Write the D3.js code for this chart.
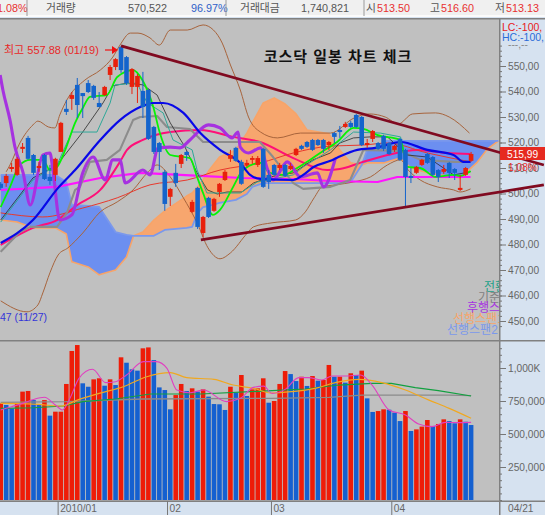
<!DOCTYPE html>
<html>
<head>
<meta charset="utf-8">
<style>
  html, body { margin: 0; padding: 0; background: #d6e2f0; overflow: hidden; }
  svg { display: block; }
  text { font-family: "Liberation Sans", "Noto Sans CJK KR", sans-serif; }
</style>
</head>
<body>
<div id="chart"></div>
<script src="https://cdnjs.cloudflare.com/ajax/libs/d3/7.8.5/d3.min.js"></script>
<script>
var days = ['12/15','12/16','12/17','12/18','12/21','12/22','12/23','12/24','12/28','12/29','12/30',
  '01/04','01/05','01/06','01/07','01/08','01/11','01/12','01/13','01/14','01/15','01/18','01/19','01/20','01/21','01/22','01/25','01/26','01/27','01/28','01/29',
  '02/01','02/02','02/03','02/04','02/05','02/08','02/09','02/10','02/11','02/12','02/16','02/17','02/18','02/19','02/22','02/23','02/24','02/25',
  '02/26','03/02','03/03','03/04','03/05','03/08','03/09','03/10','03/11','03/12','03/15','03/16','03/17','03/18','03/19','03/22','03/23','03/24','03/25','03/26','03/29','03/30','03/31',
  '04/01','04/02','04/05','04/06','04/07','04/08','04/09','04/12','04/13','04/14','04/15','04/16','04/19','04/20','04/21'];

// prices: body top / body bottom are open and close depending on the up flag
var bodyTop = [503.8,506.9,510.4,513.6,518.3,521.8,515.1,510.8,515.1,506.5,513.6,527.7,533.2,538.6,542.6,539.4,543.3,542.2,535.5,541.8,549.6,552.7,557.4,553.5,548.8,546.1,540.2,540.6,526.1,519.8,508.5,501.8,508.1,515.1,516.3,496.7,502.2,490.8,498.3,497.9,503.8,508.5,515.1,517.9,512.4,512,513.9,513.9,517.5,507.3,511.2,511.2,511.2,510.8,517.5,518.7,520.2,521,521,521,520.2,523.7,524.9,527.3,527.7,530.8,530,519.8,524.5,519.8,522.6,519.8,518.7,521.4,517.1,506.9,510.4,513.2,515.5,514.3,509.2,509.6,512,509.6,502.2,510,515.5];
var bodyBottom = [502.2,504.1,509.6,507.3,517.5,513.6,508.1,510,505.7,504.9,507.3,516.3,532,537.1,534.7,538.2,539.8,537.5,533.9,538.6,546.5,549.6,548.4,543.3,541.8,541.8,533.9,521.4,516.3,516.3,495.9,498.7,504.1,511.6,515.1,492.8,486.9,484.5,490.8,493.2,500.6,505.3,513.6,512.8,503.8,511.2,513.2,511.2,502.6,504.5,507.3,510,506.9,509.6,515.1,517.5,518.3,517.1,519,517.5,519,522.2,524.1,526.1,526.1,526.1,519,519,521.4,517.5,517.5,515.5,517.1,513.2,506.5,506.1,508.1,511.2,512,507.3,506.5,508.5,508.1,508.1,501.4,507.3,512.8];
var highs = [504.5,507.7,512,514.3,519.8,522.6,515.5,512.4,515.5,511.2,514,528.1,536.7,539.8,545.3,539.4,544.5,542.6,539.8,542.2,550.4,553.1,557.88,553.9,549.2,546.9,547.7,541,526.5,520.2,509.2,502.2,511.6,515.5,516.7,497.5,502.6,491.2,498.7,498.3,504.1,509.2,517.1,518.3,513.2,513.2,514.7,514.7,517.9,509.2,511.6,512,511.6,512,517.9,519.1,520.6,521.4,521.4,521.4,520.6,524.1,526.5,528.1,528.5,531.2,530.4,521.4,524.9,520.2,523,520.2,519.1,521.8,517.5,510,510.8,513.6,515.9,514.7,509.6,511.2,512.4,510,507.3,510.4,516.3];
var lows = [501.4,502.6,508.5,506.9,515.9,513.2,507.3,508.5,505.3,503.4,504.9,516.3,530.8,532.8,529.6,529.6,539.4,536.7,533.9,538.2,544.5,548.4,547.3,542.6,539,535.5,529.6,521,515.5,509.2,493.2,495.1,502.6,510,512.8,492.4,486.1,483,490.4,492.8,498.7,504.9,512.4,512.4,503.4,510.4,511.6,510.4,502.2,501.8,506.9,509.2,506.5,509.2,514.7,517.1,517.9,516.7,518.6,515.9,517.1,519.8,521.8,525.7,525.7,525.7,518.6,517.9,520.2,517.1,516.7,515.1,516.3,512.8,494.7,504.1,507.7,510.8,511.6,506.9,504.5,507.7,506.1,505.3,501,506.9,512.4];
var isUp = [0,1,1,1,1,0,0,1,0,0,1,1,0,1,0,0,0,0,0,1,1,1,0,0,1,1,0,0,0,0,0,1,0,1,0,1,0,1,0,1,1,1,1,0,0,1,1,1,0,0,0,1,0,1,1,0,0,0,0,0,1,0,0,1,0,0,0,1,1,0,0,0,1,0,0,0,1,1,0,0,0,1,0,0,1,1,1];

var volumes = [732000,720000,694000,732000,821000,826000,757000,720000,757000,639000,669000,669000,879000,1129000,1174000,884000,858000,914000,922000,866000,914000,871000,1081000,1040000,990000,980000,1149000,1156000,1060000,853000,833000,687000,795000,879000,826000,846000,821000,838000,783000,727000,725000,682000,858000,813000,947000,788000,838000,846000,922000,737000,750000,879000,977000,954000,901000,934000,864000,939000,904000,909000,1023000,934000,934000,889000,960000,947000,980000,770000,667000,674000,687000,684000,662000,598000,674000,523000,535000,556000,606000,561000,576000,611000,598000,581000,611000,593000,568000];

// lines as [bar index, value]
var upperBand = [[1,508.5],[1.7,511.2],[3.5,519.8],[5.9,526.9],[6.8,528.4],[8.7,526.1],[9.9,525.7],[10.8,530.8],[12.1,536.7],[15.4,544.5],[18.2,548.4],[20.5,553.5],[21.8,558.2],[23.7,562.9],[25.1,562.9],[27.3,561],[29,558.2],[31,564.1],[34.1,564.1],[37,566.1],[38.9,564.1],[40.5,559],[42,550.4],[43.8,540.6],[45.3,530],[47.5,524.1],[50.6,521.8],[54.8,523.7],[60.3,523.7],[64.6,529.6],[67.4,531.2],[70.3,530],[72.7,527.3],[75.3,531.2],[79.5,531.6],[82,530],[85.7,523.7]];
var lowerBand = [[0,457.9],[4.8,453.6],[6.8,456.3],[7.7,461],[9,468.9],[10.5,475.9],[12.3,478.7],[15,484.5],[18.2,492.8],[21.3,496.7],[24.2,501.4],[26.8,508.1],[28.6,511.2],[31,506.5],[33.4,498.3],[35.9,488.5],[37.9,478.7],[40.1,474.4],[42,476.7],[45.1,484.5],[46.2,486.9],[49.6,488.5],[53.9,489.6],[55.7,492.8],[57.3,498.3],[58.8,502.6],[61.2,503.4],[64.5,504.5],[67.6,506.5],[70.7,511.2],[73.1,513.2],[74.5,509.2],[76.7,505.3],[79.8,502.6],[82.8,501.4],[84,500.6],[85.9,501.8]];
var blueAvg = [[0,480.6],[5.9,489.6],[10.5,502.2],[13.6,509.2],[18.2,521],[21.8,528.8],[25.5,533.9],[27.9,535.5],[29.7,535.5],[33.4,531.6],[36.5,523.7],[40.1,517.1],[43.8,512],[45.6,507.3],[47.5,505.7],[53.5,505.3],[55.3,507.3],[57.2,510.4],[60.3,512.8],[61.5,514],[65.2,517.1],[68.5,517.9],[73.1,520.2],[78,517.1],[82.8,515.1],[84.6,512.4],[85.9,512.4]];
var crimsonAvg = [[0,479.8],[5.9,486.5],[10.3,489.6],[14,495.5],[18.2,501.4],[21.8,512.4],[23.1,517.1],[26,521],[31,524.1],[36.5,524.9],[42.5,522.2],[47.4,520.2],[53.5,513.9],[59.7,509.2],[62,509.6],[65.7,512],[70.7,515.1],[76.1,517.1],[81.6,515.9],[85.9,515.5]];
var magentaAvg = [[0,501.4],[10.3,502.6],[18.2,506.1],[25.5,508.1],[36.5,506.9],[44.3,506.1],[53.5,505.7],[60.3,504.9],[68.9,504.5],[72.5,506.5],[76.7,506.5],[85.9,506.5]];
var redAvg = [[0,492.4],[7.7,490.8],[15,494.3],[21.3,498.3],[27.3,503.4],[34.1,505.3],[40.1,509.2],[47.5,512],[53.5,515.9],[60.3,518.6],[66.3,519],[70.7,519.8],[78,515.9],[85.9,512.4]];
var laggingSpan = [[-0.1,546.5],[0.4,540.6],[1.7,528.8],[2.6,518.3],[4.1,508.1],[5.4,495.5],[7.7,515.1],[9,515.9],[9.6,508.1],[10.8,489.6],[13,491.6],[15,508.1],[16.9,514.3],[19.1,505.3],[20.5,513.2],[21.8,513.2],[22.8,504.1],[26,509.2],[27.3,507.3],[28.8,517.9],[31,518.2],[32.8,517.9],[34.6,521],[38,526.9],[40.1,525.7],[42.3,521.8],[43.4,524.1],[43.8,518.2],[45.3,515.9],[47.5,517.9],[48.7,510],[49.8,505.3],[52.4,512.4],[54.8,506.5],[57.9,508.1],[59,502.6],[61.2,513.9]];
var baseLine = [[0,477.1],[3.5,484.9],[5.4,486.9],[10.3,486.9],[12.1,492.4],[13.6,501.4],[14.5,502.6],[16.3,512.4],[19.4,513.2],[21.8,517.1],[24.2,528.8],[25.5,530],[28.6,530.4],[30.4,526.1],[34.6,525.3],[37,520.2],[47.4,520.2],[49.8,514.3],[53.5,504.1],[55.3,501.8],[60.3,502.6],[63.9,505.3],[66.3,517.1],[73.1,516.7],[76.7,513.2],[82.8,512.4],[85.9,512.4]];
var greenAvg = [[0,494.7],[1.7,502.6],[3.5,511.2],[5.4,513.2],[7.7,513.2],[9,509.2],[10.3,510.4],[11.8,517.1],[13.6,527.7],[15.1,533.9],[16.3,537.9],[19.4,538.6],[21.3,545.7],[24.2,548.4],[25.9,544.5],[27.9,533.9],[29.1,523.7],[31,515.1],[34.6,513.9],[35.9,506.5],[37,500.2],[38.8,491.6],[40.1,493.6],[42.5,502.6],[44.3,509.2],[47.5,512],[49.2,508.1],[51.6,507.3],[54.2,510],[56.6,513.2],[58.4,515.9],[61.5,520.2],[64.5,525.7],[66.3,525.3],[68.8,523],[73.1,521],[74.3,510.4],[76.7,510],[79.5,506.5],[82.8,507.3],[84,506.9],[85.9,508.8]];
var blackAvg = [[0,489.6],[5.9,506.1],[10.3,511.2],[15,524.1],[18.7,535.5],[20.5,542.2],[23.1,543.3],[26,542.6],[28.6,538.6],[31,527.7],[33.7,518.2],[35.9,508.1],[37.8,501.4],[39.6,499.8],[41.4,500.6],[44.1,500.6],[46.2,504.1],[49.2,506.5],[53.5,508.1],[57.1,513.2],[60.3,515.9],[62,519.8],[64.5,521.8],[67.6,522.2],[70.7,522.2],[74.3,515.1],[78,514.3],[82.8,507.3],[85.9,508.5]];
var tealAvg = [[0,488.8],[5.9,505.3],[10.3,511.2],[13,524.1],[17.6,524.1],[20,535.5],[20.9,542.6],[24.9,543.3],[26.8,535.5],[29.7,531.6],[31.5,521],[35,517.1],[35.9,509.2],[37.7,500.2],[43.8,500.2],[46.9,504.5],[53.5,507.3],[55.3,510.4],[60.3,517.1],[64.5,524.1],[69.4,523.7],[73.1,522.2],[74.3,511.2]];

// ichimoku cloud
var spanIdx = [0,3,6,10,12,13,16,18,21,23,24.3,26,28,30,34,35,36,37,38,40,43,45,46,48,50,52,54,56,60,62,64,66,67,69,70,73,75,78,84,87,89,91];
var spanA = [489.6,488.8,486.5,486.5,484.1,473.2,471.2,468.1,470,475.1,483.4,484.9,489.6,493.2,499,500.2,502.6,505.3,508.8,514.3,517.1,523.7,527.7,535.5,537.5,535.1,531.2,524.9,523.4,517.1,512,511.2,512,512,512,513.9,510,508.1,506.1,512,517.5,520.6];
var spanB = [507.3,507.3,507.3,507.3,504.5,495.5,495.1,494.7,484.9,483.8,483.4,483.4,483.4,485.7,486.5,486.9,492.4,494.7,495.1,496.3,497.5,499.8,502.6,504.1,504.1,504.1,504.1,504.1,504.1,504.1,504.5,511.2,517.1,517.1,520.6,520.6,520.6,520.6,520.6,520.6,520.6,520.6];

// volume averages as [bar index, volume]
var volGreen = [[0,694000],[6,699000],[11.5,712000],[15,745000],[21,765000],[27.4,803000],[36.5,803000],[49.6,828000],[55.7,841000],[61.8,871000],[67.9,884000],[71.4,884000],[75.8,851000],[80,828000],[86,788000]];
var volOrange = [[0,732000],[6,727000],[11,712000],[14,757000],[18,808000],[22.4,858000],[26.7,934000],[31,965000],[34,927000],[39,914000],[42.5,871000],[46.2,846000],[49.6,810000],[53.3,821000],[57.5,846000],[61.2,889000],[65.5,914000],[69.7,889000],[74,833000],[78.3,757000],[82,694000],[86,619000]];
var volPink = [[0,682000],[2,707000],[4,732000],[6,762000],[8,778000],[10,720000],[11.3,682000],[12.8,783000],[14.3,922000],[16.8,990000],[19.2,889000],[21,896000],[23,947000],[26.1,1048000],[28.5,1048000],[30.4,997000],[32.2,833000],[34.6,813000],[37.1,833000],[41.3,745000],[43.8,770000],[46.2,853000],[48.1,863000],[49.6,808000],[52,838000],[54.5,927000],[56.3,927000],[58.7,909000],[60.6,939000],[63,939000],[65.8,947000],[67.9,871000],[71,682000],[74,644000],[76.4,576000],[78.9,556000],[81.3,588000],[83.7,586000],[86,588000]];
var volGray = [[0,740000],[12,745000],[26,765000],[49.6,770000],[60,778000],[66,795000],[82,795000],[86,790000]];

// trend lines
var trendDown = [[22,557.88],[99.3,511.2]];
var trendUp = [[36.6,481.8],[99.3,503.4]];

var priceTicks = [450,460,470,480,490,500,510,520,530,540,550];
var volumeTicks = [250000,500000,750000,1000000];
var monthStarts = [11,31,50,72];
var monthLabels = ['2010/01','02','03','04'];
var lastLabel = '04/21';

var width = 545, height = 515;
var panelRight = 500;
var axisFont = 10.2;

var svg = d3.select('#chart').append('svg').attr('width', width).attr('height', height);

// all x positions come from the bar index
var x = d3.scaleLinear().domain([0, 86]).range([0.7, 471.1]);
var y = d3.scaleLinear().domain([447, 560]).range([328.65, 40.5]);
var yVol = d3.scaleLinear().domain([0, 1000000]).range([500, 368]);
var step = x(1) - x(0);
var barW = step * 0.84;

// backgrounds
svg.append('rect').attr('width', width).attr('height', 515).attr('fill', '#d6e2f0');
svg.append('rect').attr('width', width).attr('height', 15).attr('fill', '#f0f0f0');
svg.append('rect').attr('y', 15).attr('width', width).attr('height', 2).attr('fill', '#fbfbfb');
svg.append('rect').attr('y', 18).attr('width', panelRight).attr('height', 483).attr('fill', '#c0c0c0');
svg.append('rect').attr('y', 18).attr('width', width).attr('height', 1.5).attr('fill', '#808080');
svg.append('rect').attr('y', 340).attr('width', width).attr('height', 1.5).attr('fill', '#808080');
svg.append('rect').attr('y', 500.5).attr('width', width).attr('height', 1.5).attr('fill', '#808080');
svg.append('rect').attr('x', panelRight - 1).attr('y', 18).attr('width', 1.5).attr('height', 497).attr('fill', '#808080');

svg.append('clipPath').attr('id', 'pricePanel').append('rect')
  .attr('x', 0).attr('y', 19).attr('width', panelRight - 1).attr('height', 321);
svg.append('clipPath').attr('id', 'volPanel').append('rect')
  .attr('x', 0).attr('y', 342).attr('width', panelRight - 1).attr('height', 159);

var pricePanel = svg.append('g').attr('clip-path', 'url(#pricePanel)');
var volPanel = svg.append('g').attr('clip-path', 'url(#volPanel)');

// cloud, split by which span is on top
var cloudRows = spanIdx.map(function (d, i) {
  return { i: d, a: spanA[i], b: spanB[i] };
});
function cloudArea(test) {
  return d3.area()
    .defined(test)
    .x(function (d) { return x(d.i); })
    .y0(function (d) { return y(d.a); })
    .y1(function (d) { return y(d.b); });
}
pricePanel.append('path').datum(cloudRows).attr('fill', '#f7a66e')
  .attr('d', cloudArea(function (d) { return d.a >= d.b; }));
pricePanel.append('path').datum(cloudRows).attr('fill', '#6c8ff0')
  .attr('d', cloudArea(function (d) { return d.a <= d.b; }));

function drawLine(parent, rows, yScale, color, w, curve) {
  var line = d3.line()
    .x(function (d) { return x(d[0]); })
    .y(function (d) { return yScale(d[1]); })
    .curve(curve || d3.curveLinear);
  parent.append('path').datum(rows)
    .attr('fill', 'none')
    .attr('stroke', color)
    .attr('stroke-width', w)
    .attr('stroke-linejoin', 'round')
    .attr('d', line);
}

function pairs(values) {
  return spanIdx.map(function (d, i) { return [d, values[i]]; });
}
drawLine(pricePanel, pairs(spanA), y, '#f8a468', 1.6);
drawLine(pricePanel, pairs(spanB), y, '#7a98ec', 1.8);

drawLine(pricePanel, upperBand, y, '#a8643c', 1, d3.curveMonotoneX);
drawLine(pricePanel, lowerBand, y, '#a8643c', 1, d3.curveMonotoneX);
drawLine(pricePanel, magentaAvg, y, '#ff14ff', 2.1);
drawLine(pricePanel, crimsonAvg, y, '#ff0f78', 2, d3.curveMonotoneX);
drawLine(pricePanel, redAvg, y, '#e8382c', 1, d3.curveMonotoneX);
drawLine(pricePanel, baseLine, y, '#8c8c8c', 2.1);
drawLine(pricePanel, blackAvg, y, '#2a2a2a', 0.8);
drawLine(pricePanel, tealAvg, y, '#2ea898', 1);
drawLine(pricePanel, greenAvg, y, '#06f206', 1.8, d3.curveMonotoneX);
drawLine(pricePanel, laggingSpan, y, '#a632e0', 3.1, d3.curveMonotoneX);
drawLine(pricePanel, blueAvg, y, '#0808e8', 2.2, d3.curveMonotoneX);

// candles
var candleRed = '#e8200c', candleBlue = '#1464cc';
var candles = pricePanel.selectAll('g.candle')
  .data(days)
  .enter()
  .append('g')
  .attr('class', 'candle');
candles.append('line')
  .attr('x1', function (d, i) { return x(i); })
  .attr('x2', function (d, i) { return x(i); })
  .attr('y1', function (d, i) { return y(highs[i]); })
  .attr('y2', function (d, i) { return y(lows[i]); })
  .attr('stroke', function (d, i) { return isUp[i] ? candleRed : candleBlue; })
  .attr('stroke-width', 1);
candles.append('rect')
  .attr('x', function (d, i) { return x(i) - barW / 2; })
  .attr('width', barW)
  .attr('y', function (d, i) { return y(bodyTop[i]); })
  .attr('height', function (d, i) { return Math.max(1.2, y(bodyBottom[i]) - y(bodyTop[i])); })
  .attr('fill', function (d, i) { return isUp[i] ? candleRed : candleBlue; });

// volume bars, red when volume grew on the day before
volPanel.selectAll('rect')
  .data(volumes)
  .enter()
  .append('rect')
  .attr('x', function (d, i) { return x(i) - barW / 2; })
  .attr('width', barW)
  .attr('y', function (d) { return yVol(d); })
  .attr('height', function (d) { return yVol(0) - yVol(d); })
  .attr('fill', function (d, i) { return (i === 0 || d >= volumes[i - 1]) ? '#ee1c08' : '#1560d0'; });

drawLine(volPanel, volGray, yVol, '#8a8a8a', 1.3);
drawLine(volPanel, volGreen, yVol, '#12a040', 1.2);
drawLine(volPanel, volOrange, yVol, '#f0a820', 1.2, d3.curveMonotoneX);
drawLine(volPanel, volPink, yVol, '#e040c0', 1.1, d3.curveMonotoneX);

// right axes
var axisGray = '#777777';
function styleAxis(g) {
  g.select('.domain').remove();
  g.selectAll('line').attr('stroke', axisGray);
  g.selectAll('text').attr('fill', '#666666').attr('font-size', axisFont);
}
function commaLabel(d) {
  return d3.format('.2f')(d).replace('.', ',');
}
svg.append('g').attr('transform', 'translate(' + panelRight + ',0)')
  .call(d3.axisRight(y).tickValues(d3.range(448, 560, 2)).tickSize(2).tickFormat(''))
  .call(styleAxis);
svg.append('g').attr('transform', 'translate(' + panelRight + ',0)')
  .call(d3.axisRight(y).tickValues(priceTicks).tickSize(6).tickPadding(2).tickFormat(commaLabel))
  .call(styleAxis);
svg.append('g').attr('transform', 'translate(' + panelRight + ',0)')
  .call(d3.axisRight(yVol).tickValues(d3.range(0, 1200000, 50000)).tickSize(2).tickFormat(''))
  .call(styleAxis);
svg.append('g').attr('transform', 'translate(' + panelRight + ',0)')
  .call(d3.axisRight(yVol).tickValues(volumeTicks).tickSize(6).tickPadding(2)
    .tickFormat(function (d) { return d === 1000000 ? '1,000K' : d3.format(',')(d); }))
  .call(styleAxis);

// time axis, ticks sit on the left edge of the month's first bar
var timeAxis = svg.append('g');
timeAxis.selectAll('line')
  .data(monthStarts)
  .enter()
  .append('line')
  .attr('x1', function (d) { return x(d) - step / 2; })
  .attr('x2', function (d) { return x(d) - step / 2; })
  .attr('y1', 501).attr('y2', 515)
  .attr('stroke', axisGray);
timeAxis.selectAll('text')
  .data(monthStarts)
  .enter()
  .append('text')
  .attr('x', function (d) { return x(d) - step / 2 + 2; })
  .attr('y', 512)
  .attr('font-size', axisFont)
  .attr('fill', '#666666')
  .text(function (d, i) { return monthLabels[i]; });
svg.append('text').attr('x', 508).attr('y', 512).attr('font-size', axisFont)
  .attr('fill', '#666666').text(lastLabel);

// trend lines run over the axis
drawLine(svg, trendDown, y, '#800a20', 2.7);
drawLine(svg, trendUp, y, '#800a20', 2.7);

// last price box
svg.append('rect').attr('x', 500).attr('y', 147).attr('width', 45).attr('height', 13).attr('fill', '#e62a20');
svg.append('text').attr('x', 507).attr('y', 157.5).attr('font-size', axisFont).attr('fill', '#ffffff').text('515,99');
svg.append('text').attr('x', 508).attr('y', 171).attr('font-size', axisFont).attr('fill', '#ee3030').text('1,08%');
svg.append('text').attr('x', 502).attr('y', 31).attr('font-size', 10.5).attr('fill', '#e82020').text('LC:-100,');
svg.append('text').attr('x', 502).attr('y', 41).attr('font-size', 10.5).attr('fill', '#2a6cd8').text('HC:-100,');
svg.append('text').attr('x', 508).attr('y', 48).attr('font-size', axisFont).attr('fill', '#888888').text('---,--');

// header row
var headerTexts = [
  ['1.08%', -3, '#e83030'], ['거래량', 46, '#555555'], ['570,522', 128, '#555555'], ['96.97%', 191, '#2f5fc8'],
  ['거래대금', 240, '#555555'], ['1,740,821', 301, '#555555'], ['시', 366, '#555555'], ['513.50', 377, '#e83030'],
  ['고', 430, '#555555'], ['516.60', 441, '#e83030'], ['저', 495, '#555555'], ['513.13', 506, '#e83030']
];
svg.selectAll('text.head')
  .data(headerTexts)
  .enter()
  .append('text')
  .attr('class', 'head')
  .attr('x', function (d) { return d[1]; })
  .attr('y', 12)
  .attr('font-size', 10.8)
  .attr('fill', function (d) { return d[2]; })
  .text(function (d) { return d[0]; });
[27, 226, 364].forEach(function (d) {
  svg.append('line').attr('x1', d).attr('x2', d).attr('y1', 0).attr('y2', 16).attr('stroke', '#9a9a9a');
});

// annotations
svg.append('text').attr('x', 338).attr('y', 62).attr('text-anchor', 'middle')
  .attr('font-size', 15).attr('font-weight', 'bold').attr('letter-spacing', 1).attr('fill', '#111111').text('코스닥 일봉 차트 체크');
svg.append('text').attr('x', 4).attr('y', 54).attr('font-size', 11).attr('fill', '#e82828').text('최고 557.88 (01/19)');
svg.append('line').attr('x1', 105).attr('x2', 114).attr('y1', 50).attr('y2', 50).attr('stroke', '#f01010').attr('stroke-width', 1.2);
svg.append('path').attr('d', 'M112,46L118,50L112,54Z').attr('fill', '#f01010');
svg.append('text').attr('x', 0).attr('y', 321).attr('font-size', 10.5).attr('fill', '#3434d8').text('47 (11/27)');

// legend, cut off by the axis panel like the original
var legendNames = ['전환선', '기준선', '후행스팬', '선행스팬1', '선행스팬2'];
var legendColors = ['#20a088', '#808080', '#a632e0', '#f8a468', '#7a98ec'];
var legendLeft = [484, 478, 467, 453, 447];
var legendRows = [291, 302, 312, 323, 334];
svg.append('clipPath').attr('id', 'legendClip').append('rect').attr('x', 0).attr('y', 270).attr('width', 499).attr('height', 70);
svg.append('g').attr('clip-path', 'url(#legendClip)')
  .selectAll('text')
  .data(legendNames)
  .enter()
  .append('text')
  .attr('x', function (d, i) { return legendLeft[i]; })
  .attr('y', function (d, i) { return legendRows[i]; })
  .attr('font-size', 12)
  .attr('fill', function (d, i) { return legendColors[i]; })
  .text(function (d) { return d; });
</script>
</body>
</html>
